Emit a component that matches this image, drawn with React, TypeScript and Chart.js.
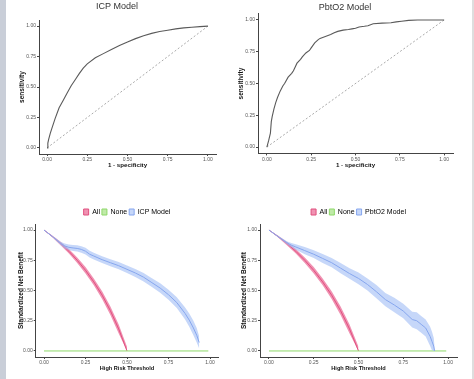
import React, { useEffect, useRef } from "react";
import { Chart, registerables } from "chart.js";
Chart.register(...registerables);

const FONT = "'Liberation Sans', Arial, sans-serif";
const tickVals = [0, 0.25, 0.5, 0.75, 1];

// ROC – ICP model
const icpFpr = [0, 0.005, 0.01, 0.02, 0.03, 0.05, 0.075, 0.1, 0.125, 0.15, 0.175, 0.2, 0.225, 0.25, 0.3, 0.35, 0.4, 0.45, 0.5, 0.55, 0.6, 0.65, 0.7, 0.75, 0.8, 0.85, 0.9, 0.95, 1.0];
const icpTpr = [0, 0.04, 0.07, 0.12, 0.16, 0.24, 0.33, 0.39, 0.45, 0.51, 0.56, 0.61, 0.655, 0.69, 0.74, 0.774, 0.807, 0.84, 0.87, 0.897, 0.92, 0.94, 0.955, 0.966, 0.977, 0.985, 0.991, 0.996, 1.0];

// ROC – PbtO2 model
const pbtFpr = [0, 0.01, 0.02, 0.025, 0.03, 0.04, 0.05, 0.06, 0.075, 0.09, 0.1, 0.12, 0.14, 0.15, 0.17, 0.19, 0.2, 0.22, 0.24, 0.25, 0.27, 0.29, 0.3, 0.33, 0.36, 0.38, 0.4, 0.43, 0.46, 0.48, 0.5, 0.52, 0.55, 0.57, 0.6, 0.65, 0.7, 0.73, 0.76, 0.8, 0.85, 0.9, 1.0];
const pbtTpr = [0, 0.05, 0.11, 0.2, 0.24, 0.3, 0.35, 0.39, 0.44, 0.48, 0.5, 0.55, 0.58, 0.6, 0.66, 0.69, 0.71, 0.74, 0.76, 0.78, 0.82, 0.845, 0.855, 0.87, 0.885, 0.9, 0.91, 0.92, 0.925, 0.93, 0.935, 0.945, 0.95, 0.955, 0.97, 0.975, 0.978, 0.985, 0.99, 0.997, 1.0, 1.0, 1.0];

// Decision curves – treat all
const allT = [0, 0.05, 0.1, 0.15, 0.2, 0.25, 0.3, 0.35, 0.4, 0.45, 0.5];
const allMid = [1.0, 0.947, 0.889, 0.824, 0.75, 0.667, 0.571, 0.462, 0.333, 0.182, 0.0];
const allLow = [1.0, 0.94, 0.875, 0.805, 0.728, 0.64, 0.543, 0.43, 0.298, 0.145, 0.0];
const allUp = [1.0, 0.954, 0.903, 0.843, 0.772, 0.694, 0.6, 0.494, 0.368, 0.219, 0.035];

// Decision curves – treat none
const noneT = [0, 0.99];
const noneY = [0, 0];

// Decision curve – ICP model
const icpT = [0, 0.05, 0.1, 0.125, 0.15, 0.175, 0.2, 0.225, 0.25, 0.275, 0.3, 0.325, 0.35, 0.4, 0.45, 0.5, 0.55, 0.6, 0.65, 0.7, 0.75, 0.8, 0.85, 0.875, 0.9, 0.92, 0.935];
const icpMid = [1.0, 0.947, 0.89, 0.868, 0.857, 0.852, 0.848, 0.84, 0.825, 0.8, 0.785, 0.77, 0.755, 0.73, 0.705, 0.675, 0.645, 0.61, 0.565, 0.52, 0.465, 0.4, 0.31, 0.255, 0.19, 0.13, 0.07];
const icpLow = [1.0, 0.942, 0.876, 0.848, 0.834, 0.827, 0.822, 0.813, 0.797, 0.772, 0.757, 0.742, 0.727, 0.701, 0.675, 0.644, 0.612, 0.575, 0.528, 0.481, 0.424, 0.355, 0.26, 0.2, 0.13, 0.07, 0.02];
const icpUp = [1.0, 0.952, 0.904, 0.888, 0.88, 0.877, 0.874, 0.867, 0.853, 0.828, 0.813, 0.798, 0.783, 0.759, 0.735, 0.706, 0.678, 0.645, 0.602, 0.559, 0.506, 0.445, 0.36, 0.31, 0.25, 0.19, 0.12];

// Decision curve – PbtO2 model
const pbtT = [0, 0.05, 0.1, 0.125, 0.15, 0.2, 0.25, 0.3, 0.35, 0.4, 0.45, 0.5, 0.55, 0.6, 0.65, 0.7, 0.75, 0.8, 0.825, 0.85, 0.875, 0.9, 0.91, 0.92, 0.925];
const pbtMid = [1.0, 0.947, 0.895, 0.875, 0.86, 0.83, 0.8, 0.765, 0.73, 0.685, 0.64, 0.6, 0.55, 0.49, 0.425, 0.38, 0.33, 0.26, 0.25, 0.22, 0.19, 0.12, 0.08, 0.04, 0.0];
const pbtLow = [1.0, 0.942, 0.882, 0.857, 0.837, 0.8, 0.768, 0.728, 0.692, 0.642, 0.597, 0.552, 0.5, 0.435, 0.37, 0.32, 0.27, 0.195, 0.18, 0.15, 0.12, 0.04, 0.005, 0.0, 0.0];
const pbtUp = [1.0, 0.952, 0.908, 0.893, 0.883, 0.86, 0.832, 0.802, 0.768, 0.728, 0.683, 0.648, 0.6, 0.545, 0.48, 0.44, 0.39, 0.325, 0.32, 0.29, 0.26, 0.2, 0.16, 0.11, 0.045];

const pts = (xs: number[], ys: number[]) => xs.map((x, i) => ({ x, y: ys[i] }));

const PINK_LINE = "#e0507f";
const PINK_FILL = "rgba(234,100,145,0.7)";
const GREEN = "#8ed86a";
const BLUE_LINE = "#86a6ee";
const BLUE_FILL = "rgba(160,188,245,0.6)";

function axis(pos: "left" | "bottom", title: string, titleSize: number, fit: number) {
  return {
    type: "linear",
    position: pos,
    min: -0.05,
    max: 1.05,
    afterBuildTicks: (s: any) => {
      s.ticks = tickVals.map((v) => ({ value: v }));
    },
    afterFit: (s: any) => {
      if (pos === "left") s.width = fit;
      else s.height = fit;
    },
    ticks: {
      callback: (v: any) => Number(v).toFixed(2),
      font: { family: FONT, size: 5 },
      color: "#555",
      padding: 1,
      maxRotation: 0,
      autoSkip: false,
    },
    grid: { display: true, drawOnChartArea: false, drawTicks: true, tickLength: 2, color: "#444" },
    border: { display: true, color: "#444", width: 1 },
    title: { display: true, text: title, font: { family: FONT, size: titleSize, weight: "bold" }, color: "#111", padding: 0 },
  };
}

function rocConfig(title: string, fpr: number[], tpr: number[], lay: any) {
  return {
    type: "line",
    data: {
      datasets: [
        { data: pts(fpr, tpr), borderColor: "#5a5a5a", borderWidth: 1.1, pointRadius: 0, fill: false, tension: 0 },
        { data: pts([0, 1], [0, 1]), borderColor: "#aaa", borderWidth: 1, borderDash: [2, 2], pointRadius: 0, fill: false },
      ],
    },
    options: {
      responsive: false,
      animation: false,
      parsing: false,
      layout: { padding: lay.padding },
      scales: {
        x: axis("bottom", "1 - specificity", 6.2, lay.xh),
        y: axis("left", "sensitivity", 6.5, lay.yw),
      },
      plugins: {
        legend: { display: false },
        tooltip: { enabled: false },
        title: {
          display: true,
          text: title,
          font: { family: FONT, size: 9, weight: "normal", lineHeight: 1.2 },
          color: "#333",
          padding: lay.titlePad,
        },
      },
    },
  };
}

function dcaConfig(name: string, t: number[], mid: number[], low: number[], up: number[], lay: any) {
  return {
    type: "line",
    data: {
      datasets: [
        { label: name, data: pts(t, mid), borderColor: BLUE_LINE, borderWidth: 1, pointRadius: 0, fill: false },
        { label: "_u", data: pts(t, up), borderWidth: 0, borderColor: "rgba(0,0,0,0)", backgroundColor: BLUE_FILL, pointRadius: 0, fill: "+1" },
        { label: "_l", data: pts(t, low), borderWidth: 0, borderColor: "rgba(0,0,0,0)", pointRadius: 0, fill: false },
        { label: "None", data: pts(noneT, noneY), borderColor: GREEN, borderWidth: 1, pointRadius: 0, fill: false },
        { label: "All", data: pts(allT, allMid), borderColor: PINK_LINE, borderWidth: 1, pointRadius: 0, fill: false },
        { label: "_u2", data: pts(allT, allUp), borderWidth: 0, borderColor: "rgba(0,0,0,0)", backgroundColor: PINK_FILL, pointRadius: 0, fill: "+1" },
        { label: "_l2", data: pts(allT, allLow), borderWidth: 0, borderColor: "rgba(0,0,0,0)", pointRadius: 0, fill: false },
      ],
    },
    options: {
      responsive: false,
      animation: false,
      parsing: false,
      layout: { padding: lay.padding },
      scales: {
        x: axis("bottom", "High Risk Threshold", 5.6, lay.xh),
        y: axis("left", "Standardized Net Benefit", 6.5, lay.yw),
      },
      plugins: {
        tooltip: { enabled: false },
        legend: {
          display: true,
          position: "top",
          fullSize: false,
          maxHeight: 17.5,
          labels: {
            font: { family: FONT, size: 7 },
            color: "#333",
            boxWidth: 5,
            boxHeight: 6,
            padding: 2,
            generateLabels: () => [
              { text: "All", fillStyle: PINK_FILL, strokeStyle: PINK_LINE, lineWidth: 1, hidden: false, datasetIndex: 4 },
              { text: "None", fillStyle: "rgba(150,220,110,0.6)", strokeStyle: GREEN, lineWidth: 1, hidden: false, datasetIndex: 3 },
              { text: name, fillStyle: BLUE_FILL, strokeStyle: BLUE_LINE, lineWidth: 1, hidden: false, datasetIndex: 0 },
            ],
          },
        },
      },
    },
  };
}

function Panel({ left, top, width, height, make }: any) {
  const ref = useRef<HTMLCanvasElement>(null);
  useEffect(() => {
    const chart = new Chart(ref.current as HTMLCanvasElement, make() as any);
    return () => chart.destroy();
  }, []);
  return (
    <div style={{ position: "absolute", left, top, width, height }}>
      <canvas ref={ref} width={width} height={height} style={{ width, height, display: "block" }} />
    </div>
  );
}

export default function App() {
  return (
    <div style={{ position: "fixed", left: 0, top: 0, width: 474, height: 379, background: "#fff", overflow: "hidden" }}>
      <div style={{ position: "absolute", left: 0, top: 0, width: 6, height: 379, background: "#c9ced8" }} />
      <div style={{ position: "absolute", left: 472, top: 0, width: 2, height: 379, background: "#dedede" }} />
      <Panel
        left={6}
        top={0}
        width={231}
        height={190}
        make={() =>
          rocConfig("ICP Model", icpFpr, icpTpr, {
            padding: { left: 12, right: 21, top: 0, bottom: 21.4 },
            xh: 14.6,
            yw: 21,
            titlePad: { top: 1.6, bottom: 7.6 },
          })
        }
      />
      <Panel
        left={237}
        top={0}
        width={235}
        height={190}
        make={() =>
          rocConfig("PbtO2 Model", pbtFpr, pbtTpr, {
            padding: { left: 0, right: 19, top: 0, bottom: 21.4 },
            xh: 15.2,
            yw: 21,
            titlePad: { top: 2.6, bottom: 0.2 },
          })
        }
      />
      <Panel
        left={6}
        top={190}
        width={231}
        height={189}
        make={() =>
          dcaConfig("ICP Model", icpT, icpMid, icpLow, icpUp, {
            padding: { left: 11.1, right: 18.7, top: 16.5, bottom: 7.4 },
            xh: 14.6,
            yw: 18.6,
          })
        }
      />
      <Panel
        left={237}
        top={190}
        width={235}
        height={189}
        make={() =>
          dcaConfig("PbtO2 Model", pbtT, pbtMid, pbtLow, pbtUp, {
            padding: { left: 3.1, right: 15, top: 16.5, bottom: 7.4 },
            xh: 14.6,
            yw: 19.9,
          })
        }
      />
    </div>
  );
}
